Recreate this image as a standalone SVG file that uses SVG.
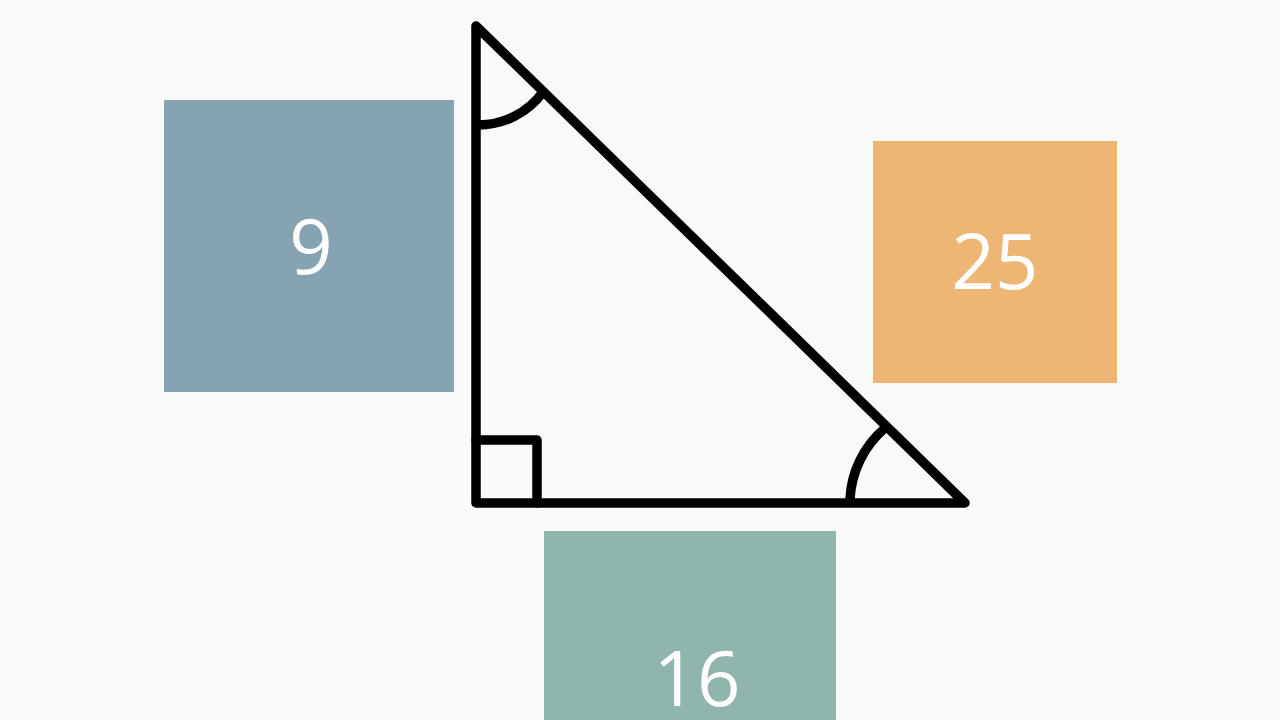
<svg xmlns="http://www.w3.org/2000/svg" width="1280" height="720" viewBox="0 0 1280 720">
<style>
.lbl{font-family:"Open Sans","Noto Sans","DejaVu Sans",sans-serif;font-size:76px;fill:#ffffff;text-anchor:middle}
.ln{fill:none;stroke:#000;stroke-width:9.5;stroke-linecap:round;stroke-linejoin:round}
</style>
<rect width="1280" height="720" fill="#f9f9f8"/>
<g id="box9"><rect x="164" y="100" width="290" height="292" fill="#86a3b2"/><text class="lbl" x="311" y="274">9</text></g>
<g id="box25"><rect x="873" y="141" width="244" height="242" fill="#eeb674"/><text class="lbl" x="995" y="289">25</text></g>
<g id="box16"><rect x="544" y="531" width="292" height="200" fill="#8fb5ad"/><text class="lbl" x="697" y="706">16</text></g>
<g id="triangle">
<path class="ln" d="M476 26 L476 503 L965 503 Z"/>
<path class="ln" d="M476 440 L537 440 L537 503"/>
<path class="ln" d="M478 125 A80 80 0 0 0 543 92"/>
<path class="ln" d="M850 499 A100 100 0 0 1 885 428"/>
</g>
</svg>
